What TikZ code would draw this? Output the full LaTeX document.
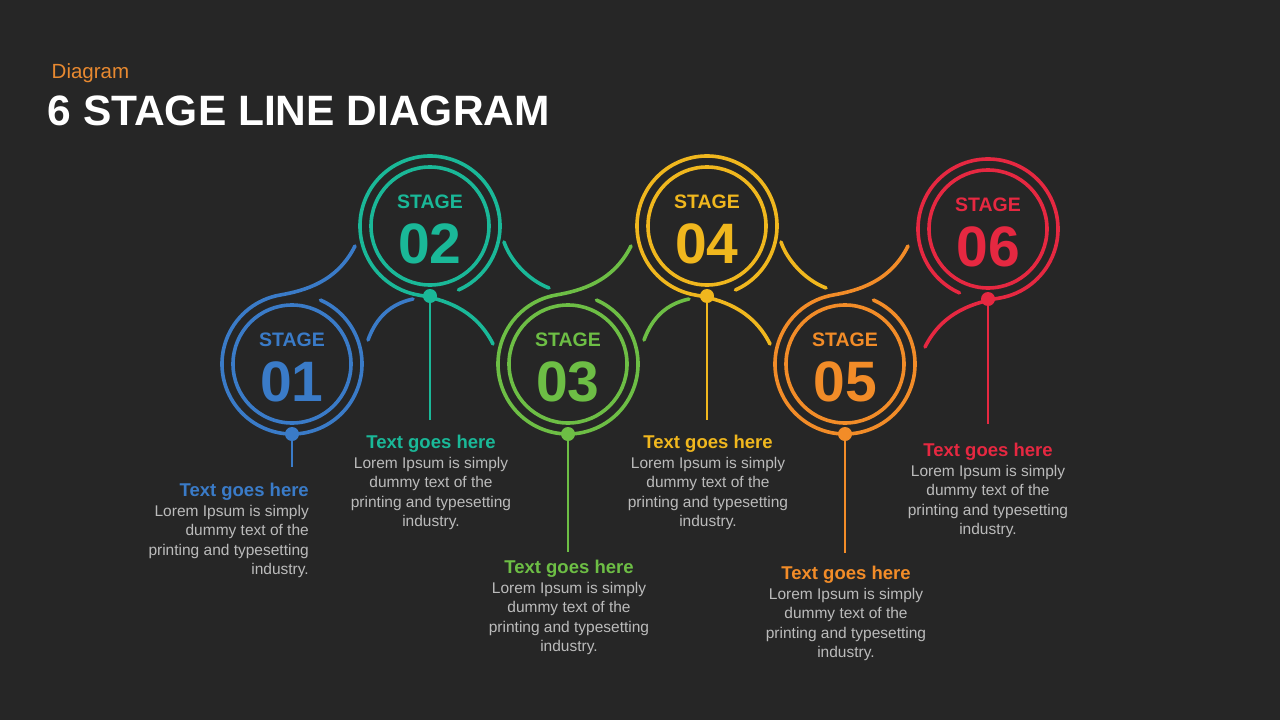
\documentclass[tikz,border=0pt]{standalone}
\usepackage{fontspec}
\setmainfont{Liberation Sans}
\definecolor{bgc}{HTML}{262626}
\definecolor{c1}{HTML}{3A7BC8}
\definecolor{c2}{HTML}{1AB898}
\definecolor{c3}{HTML}{6DBE45}
\definecolor{c4}{HTML}{F0B71E}
\definecolor{c5}{HTML}{F28C28}
\definecolor{c6}{HTML}{E62841}
\definecolor{txtgray}{HTML}{BBBBBB}
\definecolor{subor}{HTML}{E88930}
\tikzset{
  ring/.style={line width=3.6pt, line cap=round},
  stemline/.style={line width=2.6pt},
  innerc/.style={circle, line width=3.6pt, minimum size=118pt, inner sep=0pt},
  stagelbl/.style={font=\fontsize{19.5}{20}\selectfont\bfseries, anchor=base, inner sep=0pt},
  stagenum/.style={font=\fontsize{57}{57}\selectfont\bfseries, anchor=base, inner sep=0pt},
  ttl/.style={font=\fontsize{18.5}{20}\selectfont\bfseries, inner sep=0pt},
  bodytxt/.style={font=\fontsize{15.5}{19}\selectfont, text=txtgray, inner sep=0pt},
}
\begin{document}
\begin{tikzpicture}[x=1pt,y=-1pt]
\useasboundingbox (0,0) rectangle (1280,720);
\fill[bgc] (0,0) rectangle (1280,720);

% headings
\node[anchor=base west, inner sep=0pt, text=subor, font=\fontsize{20.5}{22}\selectfont] (sub) at (51.5,78.5) {Diagram};
\node[anchor=base west, inner sep=0pt, text=white, font=\fontsize{42.5}{44}\selectfont\bfseries] (title) at (47.5,125) {6 STAGE LINE DIAGRAM};

% ---------- rings and connectors ----------
% lower stages: 01, 03, 05
\foreach \cx/\c in {292/c1, 568/c3, 845/c5}{
  \begin{scope}[shift={(\cx,364)}]
    \draw[ring, \c] (-66:70) arc[start angle=-66, end angle=260, radius=70]
      .. controls (12.6,-73.3) and (45,-82) .. (63,-118);
  \end{scope}
}
% arcs from lower stage right side up to the next dot
\foreach \cx/\c in {292/c1, 568/c3}{
  \begin{scope}[shift={(\cx,364)}]
    \draw[ring, \c] (76,-24) .. controls (84,-46) and (98,-60) .. (121,-65);
  \end{scope}
}
% upper stages: 02, 04 (vertical mirror)
\foreach \cx/\c in {430/c2, 707/c4}{
  \begin{scope}[shift={(\cx,226)}, yscale=-1]
    \draw[ring, \c] (-66:70) arc[start angle=-66, end angle=260, radius=70]
      .. controls (12.6,-73.3) and (45,-82) .. (63,-118);
  \end{scope}
  \begin{scope}[shift={(\cx,226)}]
    \draw[ring, \c] (74,16) .. controls (80,34) and (98,54) .. (119,62);
  \end{scope}
}
% stage 06 (mirrored both ways)
\begin{scope}[shift={(988,229)}, xscale=-1, yscale=-1]
  \draw[ring, c6] (-66:70) arc[start angle=-66, end angle=260, radius=70]
    .. controls (12.6,-73.3) and (45,-82) .. (63,-118);
\end{scope}

% ---------- inner circles, labels, stems, dots ----------
\foreach \n/\cx/\cy/\c/\dy/\se in {1/292/364/c1/434/467, 2/430/226/c2/296/420, 3/568/364/c3/434/552, 4/707/226/c4/296/420, 5/845/364/c5/434/553, 6/988/229/c6/299/424}{
  \node[innerc, draw=\c] (s\n) at (\cx,\cy) {};
  \node[stagelbl, text=\c] (l\n) at (\cx,\cy-18) {STAGE};
  \node[stagenum, text=\c] (n\n) at (\cx,\cy+37) {0\n};
  \coordinate (d\n) at (\cx,\dy);
  \coordinate (e\n) at (\cx,\se);
  \draw[stemline, \c] (d\n) -- (e\n);
  \fill[\c] (d\n) circle (7);
}

% ---------- text blocks ----------
\foreach \n/\tx/\tb/\c/\anc in {1/309/496/c1/base east, 2/431/448/c2/base, 3/569/573/c3/base, 4/708/448/c4/base, 5/846/579/c5/base, 6/988/456/c6/base}{
  \node[ttl, text=\c, anchor=\anc] (t\n) at (\tx,\tb) {Text goes here};
  \foreach \ln [count=\i] in {Lorem Ipsum is simply, dummy text of the, printing and typesetting, industry.}{
    \node[bodytxt, anchor=\anc] (b\n-\i) at ({\tx},{\tb+20.5+19.3*(\i-1)}) {\ln};
  }
}
\end{tikzpicture}
\end{document}
